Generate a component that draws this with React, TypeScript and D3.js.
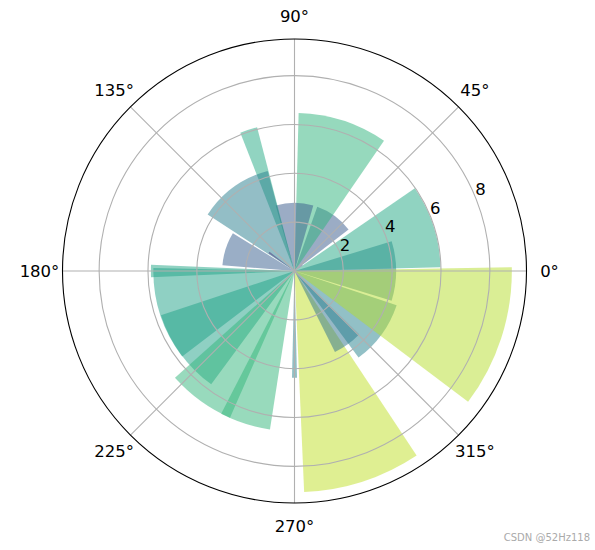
import * as d3 from "d3";
import { useEffect, useRef } from "react";

// bar centres (deg), radii and widths (deg)
const thetas = [0, 18, 36, 54, 72, 90, 108, 126, 144, 162, 180, 198, 216, 234, 252, 270, 288, 306, 324, 342];
const radii = [4.16, 5.98, 0.4, 2.79, 6.47, 2.79, 6.08, 4.24, 1.29, 2.96, 5.88, 5.78, 5.76, 6.56, 6.57, 4.37, 9.06, 3.71, 4.41, 8.9];
const widths = [34, 33, 4, 33, 33, 32, 6.8, 42, 3, 27, 5, 38.5, 35.4, 24.5, 18.4, 2.7, 31, 19, 35, 38];

const rTicks = [2, 4, 6, 8];
const thetaTicks = [0, 45, 90, 135, 180, 225, 270, 315];
const rMax = 9.5;

export default function App() {
  const svgRef = useRef<SVGSVGElement>(null);
  const width = 595;
  const height = 550;

  useEffect(() => {
    const svg = d3.select(svgRef.current)
      .attr("viewBox", `0 0 ${width} ${height}`)
      .attr("width", width)
      .attr("height", height);
    svg.selectAll("*").remove();

    const cx = 294.5, cy = 271, R = 232;
    const r = d3.scaleLinear().domain([0, rMax]).range([0, R]);
    const rad = (deg: number) => (deg * Math.PI) / 180;

    const g = svg.append("g").attr("transform", `translate(${cx},${cy})`);

    // bars (math angle -> d3 angle: pi/2 - theta)
    const bars = thetas.map((t, i) => ({ t, r: radii[i], w: widths[i] }));
    const arc = d3.arc<{ t: number; r: number; w: number }>()
      .innerRadius(0)
      .outerRadius(d => r(d.r))
      .startAngle(d => Math.PI / 2 - rad(d.t + d.w / 2))
      .endAngle(d => Math.PI / 2 - rad(d.t - d.w / 2));

    g.selectAll("path.bar")
      .data(bars)
      .enter()
      .append("path")
      .attr("class", "bar")
      .attr("d", arc)
      .attr("fill", d => d3.interpolateViridis(d.r / 10))
      .attr("fill-opacity", 0.5);

    // grid
    g.selectAll("circle.grid")
      .data(rTicks)
      .enter()
      .append("circle")
      .attr("r", d => r(d))
      .attr("fill", "none")
      .attr("stroke", "#b0b0b0")
      .attr("stroke-width", 1.1);

    g.selectAll("line.grid")
      .data(thetaTicks)
      .enter()
      .append("line")
      .attr("x1", 0)
      .attr("y1", 0)
      .attr("x2", d => R * Math.cos(rad(d)))
      .attr("y2", d => -R * Math.sin(rad(d)))
      .attr("stroke", "#b0b0b0")
      .attr("stroke-width", 1.1);

    g.append("circle")
      .attr("r", R)
      .attr("fill", "none")
      .attr("stroke", "#000")
      .attr("stroke-width", 1.1);

    // angle labels
    g.selectAll("text.theta")
      .data(thetaTicks)
      .enter()
      .append("text")
      .attr("x", d => (R + 23) * Math.cos(rad(d)))
      .attr("y", d => -(R + 23) * Math.sin(rad(d)))
      .attr("text-anchor", "middle")
      .attr("dominant-baseline", "central")
      .style("font-family", "DejaVu Sans")
      .style("font-size", "16.5px")
      .text(d => `${d}°`);

    // radial labels at 22.5deg
    g.selectAll("text.rlab")
      .data(rTicks)
      .enter()
      .append("text")
      .attr("x", d => r(d) * Math.cos(rad(22.5)) + 5.5)
      .attr("y", d => -r(d) * Math.sin(rad(22.5)) - 6.7)
      .attr("text-anchor", "middle")
      .attr("dominant-baseline", "central")
      .style("font-family", "DejaVu Sans")
      .style("font-size", "16.5px")
      .text(d => d);

    svg.append("text")
      .attr("x", 590)
      .attr("y", 541)
      .attr("text-anchor", "end")
      .style("font-family", "DejaVu Sans")
      .style("font-size", "10px")
      .attr("fill", "#aaa")
      .text("CSDN @52Hz118");
  }, []);

  return (
    <div style={{ position: "absolute", left: 0, top: 0, background: "#fff" }}>
      <svg ref={svgRef}></svg>
    </div>
  );
}
